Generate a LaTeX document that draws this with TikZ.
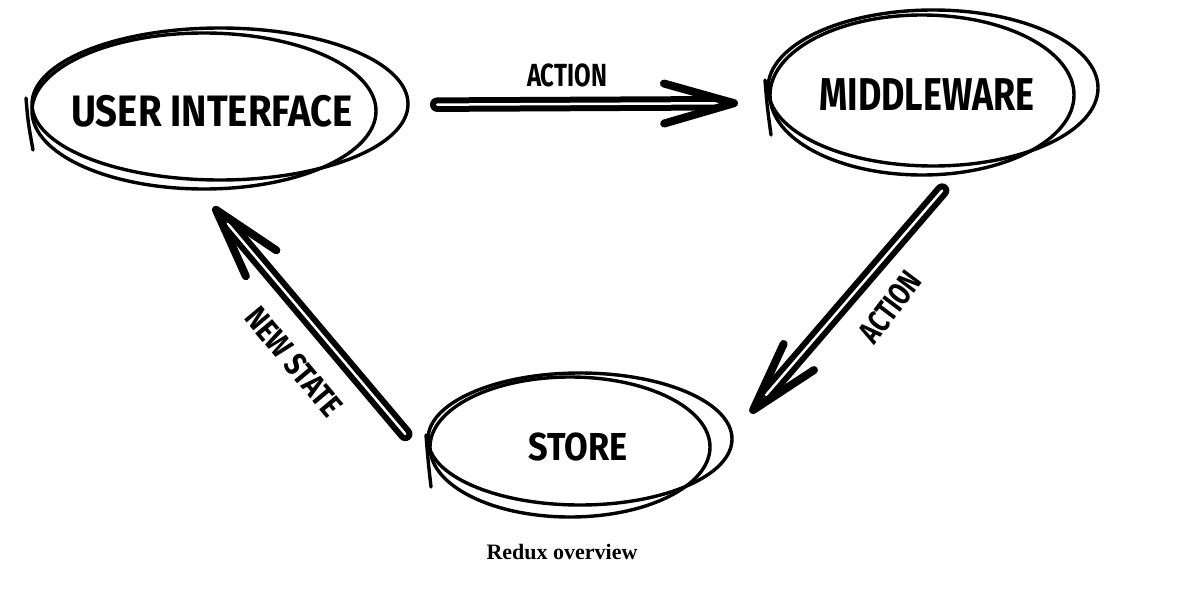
\documentclass[tikz,border=0pt]{standalone}
\usepackage{fontspec}
\usepackage{tikz}
\usetikzlibrary{shapes.geometric}
\usetikzlibrary{arrows.meta}
\newfontfamily\skfont{Fira Sans}
\newfontfamily\capfont{Liberation Serif}
\newcommand{\skt}[3][0pt]{\makebox[0pt]{\hspace{#1}\hspace{#1}\raisebox{-0.345em}[0pt][0pt]{\scalebox{#2}[1]{#3}}}}

\begin{document}
\begin{tikzpicture}[x=1pt,y=-1pt,
    blob/.style={ellipse, draw, line width=3.4pt, inner sep=0pt, font=\skfont\bfseries},
    rim/.style={draw, line width=3.4pt, line cap=round},
    shaft/.style={draw, line width=6pt, double=white, double distance=2.5pt, line cap=round},
    headonly/.style={draw=white, line width=0.01pt,
        -{Straight Barb[length=70pt,width=40pt,line width=8pt,round,color=black]}},
    lbl/.style={font=\skfont\bfseries\fontsize{32}{32}\selectfont, inner sep=0pt}]
    \useasboundingbox (0,0) rectangle (1200,605);

    % 绘制三个节点
    \node[blob, minimum width=344pt, minimum height=156pt, font=\skfont\bfseries\fontsize{44}{44}\selectfont] (ui) at (204,111) {\skt[8pt]{0.87}{USER INTERFACE}};
    \node[blob, minimum width=304pt, minimum height=160pt, font=\skfont\bfseries\fontsize{46}{46}\selectfont] (mw) at (922,95) {\skt[5pt]{0.78}{MIDDLEWARE}};
    \node[blob, minimum width=280pt, minimum height=140pt, font=\skfont\bfseries\fontsize{39}{39}\selectfont] (store) at (570,447) {\skt[8pt]{0.88}{STORE}};

    % 第二圈
    \draw[rim] ([shift={(16,-7)}]ui.center) ellipse [x radius=188pt, y radius=76pt];
    \draw[rim] ([shift={(11,-7)}]mw.center) ellipse [x radius=165pt, y radius=78pt];
    \draw[rim] ([shift={(10,-8)}]store.center) ellipse [x radius=152pt, y radius=66pt];
    \draw[rim] (26,98) .. controls (28,122) .. (33,150);
    \draw[rim] (765,80) .. controls (767,105) .. (771,135);
    \draw[rim] (426,435) .. controls (428,460) .. (431,487);

    % 箭头
    \draw[shaft, shorten <=60pt, shorten >=49pt] (ui.2) -- (mw.183);
    \draw[headonly, shorten <=60pt, shorten >=31pt] (ui.2) -- (mw.183);
    \draw[shaft, shorten <=21pt, shorten >=88pt] (mw.-67) -- (store.-6);
    \draw[headonly, shorten <=21pt, shorten >=64pt] (mw.-67) -- (store.-6);
    \draw[shaft, shorten <=48pt, shorten >=43pt] (store.190) -- (ui.-93);
    \draw[headonly, shorten <=48pt, shorten >=21pt] (store.190) -- (ui.-93);

    \node[lbl] (act1) at (567,75) {\scalebox{0.75}[1]{ACTION}};
    \node[lbl, rotate=53] (act2) at (890,307) {\scalebox{0.75}[1]{ACTION}};
    \node[lbl, rotate=-50] (newst) at (294,362) {\scalebox{0.84}[1]{NEW STATE}};

    \node[font=\capfont\bfseries\fontsize{22}{22}\selectfont] (cap) at (562,552) {Redux overview};
\end{tikzpicture}
\end{document}
